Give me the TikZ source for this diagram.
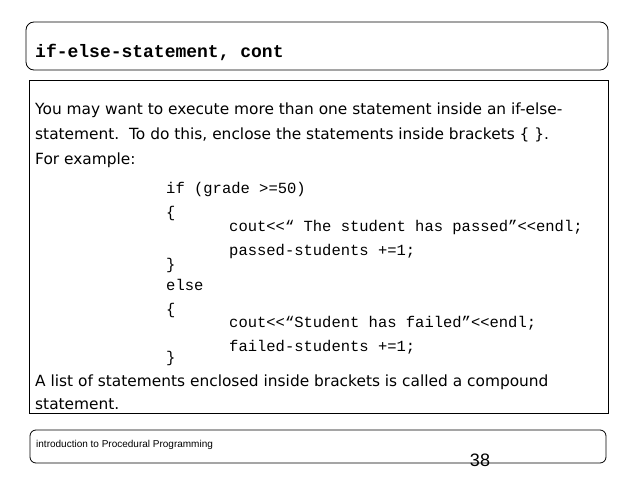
\documentclass[tikz,border=0pt]{standalone}
\usepackage{fontspec}
\setmainfont{DejaVu Sans}
\newfontfamily\codefont{Liberation Mono}
\newfontfamily\footfont{Liberation Sans}
\begin{document}
\begin{tikzpicture}[x=1pt,y=-1pt,
  body/.style={anchor=base west,inner sep=0,font=\fontsize{15.4}{16}\selectfont},
  code/.style={anchor=base west,inner sep=0,font=\codefont\fontsize{15.5}{16}\selectfont},
  frame/.style={draw=black,line width=0.8pt}]
\useasboundingbox (0,0) rectangle (638,479);
\draw[frame,rounded corners=8pt] (26,22) rectangle (608,70);
\node[anchor=base west,inner sep=0,font=\codefont\bfseries\fontsize{18}{19}\selectfont] (title) at (35,57) {if-else-statement, cont};
\draw[frame] (29,80) rectangle (608,413);
\node[body] (l1) at (35,114) {You may want to execute more than one statement inside an if-else-};
\node[body] (l2) at (35,139) {statement.\ \ To do this, enclose the statements inside brackets \{ \}.};
\node[body] (l3) at (35,164) {For example:};
\node[code] (c1) at (166,193) {if (grade >=50)};
\node[code] (c2) at (166,217) {\{};
\node[code] (c3) at (229,231) {cout<<“ The student has passed”<<endl;};
\node[code] (c4) at (229,255) {passed-students +=1;};
\node[code] (c5) at (166,269) {\}};
\node[code] (c6) at (166,290) {else};
\node[code] (c7) at (166,314) {\{};
\node[code] (c8) at (229,327) {cout<<“Student has failed”<<endl;};
\node[code] (c9) at (229,351) {failed-students +=1;};
\node[code] (c10) at (166,362) {\}};
\node[body] (l4) at (35,386) {A list of statements enclosed inside brackets is called a compound};
\node[body] (l5) at (35,409) {statement.};
\draw[frame,rounded corners=6pt] (30,430) rectangle (606,463);
\node[anchor=base west,inner sep=0,font=\footfont\fontsize{10}{11}\selectfont] (foot) at (36,447) {introduction to Procedural Programming};
\node[anchor=base,inner sep=0,font=\footfont\fontsize{18}{19}\selectfont] (num) at (480,466) {38};
\end{tikzpicture}
\end{document}
